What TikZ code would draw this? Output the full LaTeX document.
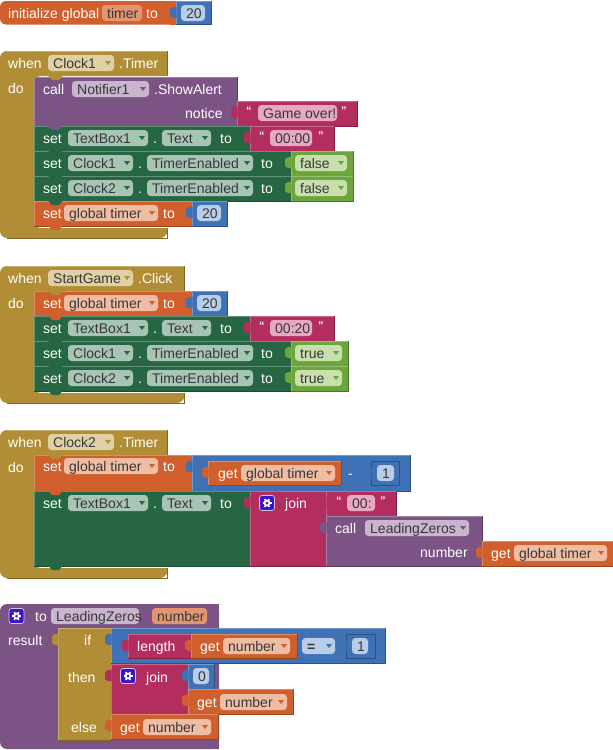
\documentclass[tikz,border=0pt]{standalone}
\usepackage{fontspec}
\setmainfont{Liberation Sans}

\definecolor{corange}{HTML}{D05F2D}
\definecolor{cblue}{HTML}{3F71B5}
\definecolor{cgold}{HTML}{B18E35}
\definecolor{cpurple}{HTML}{7C5385}
\definecolor{cpink}{HTML}{B32D5E}
\definecolor{cgreen}{HTML}{266643}
\definecolor{clime}{HTML}{6CA53B}
\definecolor{cindigo}{HTML}{3A16C4}
\definecolor{forange}{HTML}{EFBDA4}
\definecolor{fname}{HTML}{E3956F}
\definecolor{fblue}{HTML}{B9CDE8}
\definecolor{fgold}{HTML}{DFD1A5}
\definecolor{fpurple}{HTML}{C9B5CD}
\definecolor{fpink}{HTML}{E6A8C2}
\definecolor{fgreen}{HTML}{A7C4B4}
\definecolor{flime}{HTML}{C9E0AE}

\tikzset{
    lbl/.style={anchor=base west, inner sep=0pt, text=white, font=\fontsize{14}{16}\selectfont},
    fldtxt/.style={lbl, text=black!78},
    qt/.style={lbl, font=\fontsize{11}{12}\selectfont\bfseries}
}

% plain block with light top edge and dark lower edge
\newcommand{\blk}[5]{
    \fill[#1] (#2,#3) rectangle (#4,#5);
    \draw[#1!72!white, line width=.6pt] (#2,#5) -- (#2,#3) -- (#4,#3);
    \draw[#1!72!black, line width=.6pt] (#4,#3) -- (#4,#5) -- (#2,#5);
}
% notch under a statement
\newcommand{\ntch}[3]{
    \fill[#1] (#2+14,#3-.5) -- (#2+18,#3+4) -- (#2+25,#3+4) -- (#2+29,#3-.5) -- cycle;
}
% plug on the left of a value block
\newcommand{\plug}[3]{
    \fill[#1] (#2+.5,#3+6) -- (#2-3,#3+6) -- (#2-6,#3+8) -- (#2-6,#3+15) -- (#2-3,#3+17) -- (#2+.5,#3+17) -- cycle;
}
% {fill}{x1}{x2}{y centre}{text}
\newcommand{\fld}[5]{
    \fill[#1, rounded corners=3.5pt] (#2,#4-8) rectangle (#3,#4+8);
    \node[fldtxt] at (#2+5,#4+5) {#5};
}
% the same with a dropdown mark: {fill}{mark}{x1}{x2}{y centre}{text}
\newcommand{\ddf}[6]{
    \fld{#1}{#3}{#4}{#5}{#6}
    \fill[#2] (#4-9,#5-2) -- (#4-3,#5-2) -- (#4-6,#5+2) -- cycle;
}
\newcommand{\lbl}[3]{\node[lbl] at (#1,#2+5) {#3};}
\newcommand{\gear}[2]{
    \fill[cindigo, draw=white!75!cindigo, rounded corners=2.5pt, line width=.7pt] (#1-7.5,#2-7.5) rectangle (#1+7.5,#2+7.5);
    \foreach \a in {0,60,...,300}
        \draw[white, line width=1.6pt] (#1,#2) -- ++(\a:4.5);
    \fill[white] (#1,#2) circle (3.4);
    \fill[cindigo] (#1,#2) circle (1.5);
}
% {y top}{y inner top}{y inner bottom}{y bottom}{x right}
\newcommand{\whenhat}[5]{
    \fill[cgold, rounded corners=7pt] (#5,#1) -- (0,#1) -- (0,#4) -- (#5,#4) -- (#5,#3) -- (34,#3) -- (34,#2) -- (#5,#2) -- cycle;
    \fill[cgold] (40,#2-5) rectangle (#5,#2);
    \fill[cgold] (40,#3) rectangle (#5,#3+5);
    \fill[cgold] (#5-7,#1) rectangle (#5,#2);
    \draw[cgold!72!white, line width=.6pt] (7,#1) -- (#5,#1);
    \draw[cgold!72!black, line width=.6pt] (#5,#1) -- (#5,#2);
    \draw[cgold!72!black, line width=.6pt] (#5,#3) -- (#5,#4) -- (7,#4);
    \lbl{8}{#1+12}{when}
    \lbl{8}{#2+12}{do}
}
% set global timer to 20
\newcommand{\globalrow}[2]{
    \blk{corange}{34}{#1}{192}{#1+25}
    \blk{cblue}{192}{#1}{227}{#1+25}
    \plug{cblue}{192}{#1}
    \lbl{43}{#1+12}{set}
    \ddf{forange}{corange}{64}{158}{#1+12}{global timer}
    \lbl{163}{#1+12}{to}
    \fld{fblue}{197}{221}{#1+12}{#2}
}
% set TextBox1 . Text to "..."
\newcommand{\textrow}[3]{
    \blk{cgreen}{34}{#1}{250}{#1+25}
    \blk{cpink}{250}{#1}{334}{#1+25}
    \plug{cpink}{250}{#1}
    \lbl{43}{#1+12}{set}
    \ddf{fgreen}{cgreen}{68}{148}{#1+12}{TextBox1}
    \lbl{153}{#1+12}{.}
    \ddf{fgreen}{cgreen}{162}{211}{#1+12}{Text}
    \lbl{220}{#1+12}{to}
    \node[qt] at (259,#1+13) {\char"201C};
    \fld{fpink}{270}{312}{#1+12}{#2}
    \node[qt] at (318,#1+13) {\char"201D};
}
% set ClockN . TimerEnabled to true/false
\newcommand{\timerrow}[4]{
    \blk{cgreen}{34}{#1}{291}{#1+25}
    \blk{clime}{291}{#1}{#4}{#1+25}
    \plug{clime}{291}{#1}
    \lbl{43}{#1+12}{set}
    \ddf{fgreen}{cgreen}{68}{133}{#1+12}{#2}
    \lbl{138}{#1+12}{.}
    \ddf{fgreen}{cgreen}{147}{253}{#1+12}{TimerEnabled}
    \lbl{261}{#1+12}{to}
    \ddf{flime}{clime}{295}{#4-6}{#1+12}{#3}
}

\begin{document}
\begin{tikzpicture}[x=1pt, y=-1pt]
    \useasboundingbox (0,0) rectangle (613,750);

    % initialize
    \fill[corange, rounded corners=6pt] (176,1) -- (0,1) -- (0,24.5) -- (176,24.5) -- cycle;
    \fill[corange] (170,1) rectangle (176,24.5);
    \blk{cblue}{176}{1}{211}{24.5}
    \plug{cblue}{176}{1}
    \lbl{8}{13}{initialize global}
    \fld{fname}{102}{142}{13}{timer}
    \lbl{146}{13}{to}
    \fld{fblue}{181}{205}{13}{20}

    % Clock1.Timer
    \whenhat{51}{76}{228}{238}{167}
    \ddf{fgold}{cgold}{48}{114}{63}{Clock1}
    \lbl{119}{63}{.Timer}
    \blk{cpurple}{34}{77}{237}{126}
    \lbl{43}{89}{call}
    \ddf{fpurple}{cpurple}{72}{149}{89}{Notifier1}
    \lbl{154}{89}{.ShowAlert}
    \lbl{185}{113}{notice}
    \blk{cpink}{237}{101}{357}{126}
    \plug{cpink}{237}{101}
    \node[qt] at (246,114) {\char"201C};
    \fld{fpink}{258}{337}{113}{Game over!}
    \node[qt] at (341,114) {\char"201D};
    \textrow{126}{00:00}{}
    \timerrow{151}{Clock1}{false}{353}
    \timerrow{176}{Clock2}{false}{353}
    \globalrow{201}{20}
    \foreach \y/\c in {76/cgold,126/cpurple,151/cgreen,176/cgreen,201/cgreen,226/corange}
        {\ntch{\c}{34}{\y}}

    % StartGame.Click
    \whenhat{266}{291}{393}{403}{184}
    \ddf{fgold}{cgold}{48}{133}{278}{StartGame}
    \lbl{138}{278}{.Click}
    \globalrow{291}{20}
    \textrow{316}{00:20}{}
    \timerrow{341}{Clock1}{true}{348}
    \timerrow{366}{Clock2}{true}{348}
    \foreach \y/\c in {291/cgold,316/corange,341/cgreen,366/cgreen,391/cgreen}
        {\ntch{\c}{34}{\y}}

    % Clock2.Timer
    \whenhat{430}{455}{568}{578}{167}
    \ddf{fgold}{cgold}{48}{114}{442}{Clock2}
    \lbl{119}{442}{.Timer}
    \blk{corange}{34}{455}{192}{491}
    \lbl{43}{466}{set}
    \ddf{forange}{corange}{64}{158}{466}{global timer}
    \lbl{163}{466}{to}
    \blk{cblue}{192}{455}{410}{491}
    \plug{cblue}{192}{455}
    \blk{corange}{208}{461}{341}{485}
    \plug{corange}{208}{461}
    \lbl{218}{473}{get}
    \ddf{forange}{corange}{241}{335}{473}{global timer}
    \lbl{348}{473}{-}
    \draw[cblue!72!black, line width=.6pt] (371,461) rectangle (399,485);
    \plug{cblue}{371}{461}
    \fld{fblue}{377}{394}{473}{1}
    \blk{cgreen}{34}{491}{250}{566}
    \lbl{43}{503}{set}
    \ddf{fgreen}{cgreen}{68}{148}{503}{TextBox1}
    \lbl{153}{503}{.}
    \ddf{fgreen}{cgreen}{162}{211}{503}{Text}
    \lbl{220}{503}{to}
    \blk{cpink}{250}{491}{326}{566}
    \plug{cpink}{250}{491}
    \gear{267}{503}
    \lbl{285}{503}{join}
    \blk{cpink}{326}{491}{396}{516}
    \plug{cpink}{326}{491}
    \node[qt] at (336,504) {\char"201C};
    \fld{fpink}{347}{375}{503}{00:}
    \node[qt] at (380,504) {\char"201D};
    \blk{cpurple}{326}{516}{482}{566}
    \plug{cpurple}{326}{516}
    \lbl{335}{528}{call}
    \ddf{fpurple}{cpurple}{365}{469}{528}{LeadingZeros}
    \lbl{420}{552}{number}
    \blk{corange}{482}{541}{613}{566}
    \plug{corange}{482}{541}
    \lbl{491}{553}{get}
    \ddf{forange}{corange}{514}{607}{553}{global timer}
    \foreach \y/\c in {455/cgold,491/corange,566/cgreen}
        {\ntch{\c}{34}{\y}}

    % LeadingZeros
    \fill[cpurple, rounded corners=7pt] (219,604) -- (0,604) -- (0,749) -- (219,749) -- cycle;
    \fill[cpurple] (212,604) rectangle (219,749);
    \gear{16.5}{616}
    \lbl{35}{616}{to}
    \fld{fpurple}{51}{139}{616}{LeadingZeros}
    \fld{fname}{152}{207}{616}{number}
    \lbl{8}{640}{result}
    \blk{cgold}{58}{628}{111}{740}
    \plug{cgold}{58}{628}
    \lbl{84}{640}{if}
    \lbl{68}{677}{then}
    \lbl{71}{727}{else}
    \blk{cblue}{111}{628}{385}{663}
    \plug{cblue}{111}{628}
    \blk{cpink}{128}{634}{191}{658}
    \plug{cpink}{128}{634}
    \lbl{137}{646}{length}
    \blk{corange}{191}{634}{297}{658}
    \plug{corange}{191}{634}
    \lbl{200}{646}{get}
    \ddf{forange}{corange}{223}{290}{646}{number}
    \ddf{fblue}{cblue}{302}{335}{646}{\textbf{=}}
    \draw[cblue!72!black, line width=.6pt] (346,634) rectangle (375,658);
    \plug{cblue}{346}{634}
    \fld{fblue}{352}{368}{646}{1}
    \blk{cpink}{111}{664}{188}{714}
    \plug{cpink}{111}{664}
    \gear{128}{676}
    \lbl{146}{677}{join}
    \blk{cblue}{188}{664}{214}{689}
    \plug{cblue}{188}{664}
    \fld{fblue}{193}{209}{676}{0}
    \blk{corange}{188}{689}{293}{714}
    \plug{corange}{188}{689}
    \lbl{197}{702}{get}
    \ddf{forange}{corange}{220}{287}{702}{number}
    \blk{corange}{111}{714}{218}{739}
    \plug{corange}{111}{714}
    \lbl{120}{727}{get}
    \ddf{forange}{corange}{143}{211}{727}{number}
\end{tikzpicture}
\end{document}
